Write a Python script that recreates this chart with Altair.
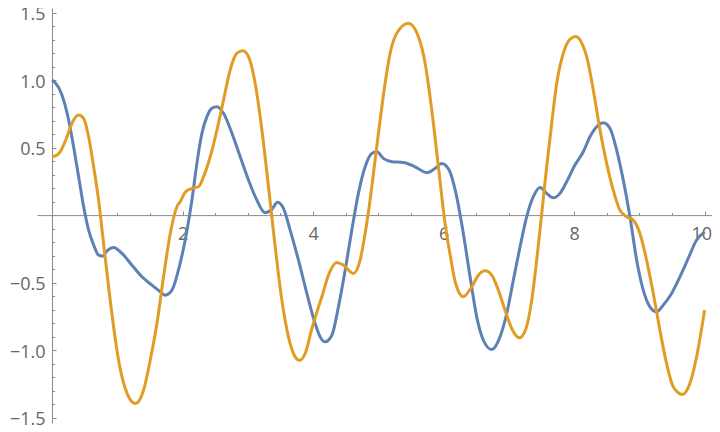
import altair as alt
import pandas as pd

# ---- data ----
blue_x = [0.0, 0.101, 0.178, 0.255, 0.331, 0.408, 0.485, 0.561, 0.638, 0.714, 0.776, 0.842, 0.944,
          1.072, 1.225, 1.378, 1.531, 1.659, 1.735, 1.838, 1.95, 2.06, 2.144, 2.220, 2.297, 2.374,
          2.450, 2.527, 2.628, 2.757, 2.884, 3.011, 3.139, 3.266, 3.369, 3.455, 3.547, 3.649, 3.777,
          3.905, 4.032, 4.109, 4.185, 4.288, 4.389, 4.492, 4.594, 4.695, 4.798, 4.900, 4.977, 5.078,
          5.207, 5.384, 5.564, 5.743, 5.870, 5.972, 6.085, 6.19, 6.303, 6.406, 6.508, 6.610, 6.738,
          6.865, 6.968, 7.069, 7.172, 7.274, 7.375, 7.478, 7.580, 7.681, 7.784, 7.886, 8.013, 8.141,
          8.243, 8.371, 8.447, 8.549, 8.652, 8.754, 8.856, 8.959, 9.060, 9.162, 9.265, 9.366, 9.494,
          9.622, 9.749, 9.877, 10.0]
blue_y = [1.0, 0.946, 0.852, 0.704, 0.506, 0.284, 0.062, -0.111, -0.222, -0.297, -0.304, -0.265, -0.240,
          -0.284, -0.371, -0.457, -0.519, -0.568, -0.593, -0.556, -0.383, -0.136, 0.111, 0.383, 0.606, 0.729,
          0.791, 0.803, 0.754, 0.606, 0.432, 0.259, 0.111, 0.017, 0.042, 0.096, 0.050, -0.111, -0.334,
          -0.580, -0.803, -0.902, -0.939, -0.890, -0.680, -0.408, -0.111, 0.161, 0.358, 0.457, 0.469, 0.420,
          0.395, 0.390, 0.358, 0.314, 0.346, 0.383, 0.334, 0.161, -0.136, -0.457, -0.754, -0.927, -0.996,
          -0.902, -0.729, -0.482, -0.235, -0.012, 0.136, 0.205, 0.161, 0.128, 0.161, 0.247, 0.371, 0.469,
          0.580, 0.667, 0.684, 0.643, 0.482, 0.259, -0.012, -0.334, -0.556, -0.680, -0.717, -0.667, -0.580,
          -0.457, -0.321, -0.185, -0.124]

orange_x = [0.0, 0.077, 0.153, 0.230, 0.306, 0.408, 0.485, 0.561, 0.638, 0.714, 0.790, 0.867, 0.944,
            1.020, 1.123, 1.276, 1.403, 1.505, 1.608, 1.709, 1.812, 1.914, 1.965, 2.04, 2.144, 2.245,
            2.322, 2.424, 2.527, 2.628, 2.730, 2.833, 2.925, 3.011, 3.113, 3.216, 3.317, 3.420, 3.522,
            3.623, 3.726, 3.792, 3.879, 3.982, 4.032, 4.135, 4.236, 4.364, 4.466, 4.619, 4.721, 4.798,
            4.874, 4.951, 5.028, 5.104, 5.181, 5.283, 5.462, 5.614, 5.717, 5.819, 5.921, 6.023, 6.11,
            6.176, 6.303, 6.432, 6.533, 6.636, 6.738, 6.839, 6.942, 7.044, 7.161, 7.263, 7.351, 7.427,
            7.504, 7.580, 7.657, 7.734, 7.835, 7.937, 8.029, 8.141, 8.193, 8.294, 8.397, 8.499, 8.600,
            8.702, 8.805, 8.906, 9.009, 9.111, 9.213, 9.315, 9.417, 9.519, 9.662, 9.774, 9.877, 10.0]
orange_y = [0.432, 0.445, 0.494, 0.580, 0.680, 0.741, 0.717, 0.580, 0.358, 0.111, -0.210, -0.531, -0.828,
            -1.075, -1.285, -1.396, -1.297, -1.075, -0.803, -0.457, -0.136, 0.062, 0.10, 0.17, 0.198, 0.210,
            0.284, 0.432, 0.630, 0.852, 1.075, 1.199, 1.218, 1.174, 0.976, 0.630, 0.210, -0.235, -0.630,
            -0.902, -1.050, -1.075, -1.025, -0.84, -0.76, -0.605, -0.445, -0.351, -0.371, -0.432, -0.334, -0.136,
            0.111, 0.408, 0.704, 0.976, 1.199, 1.347, 1.421, 1.322, 1.125, 0.778, 0.358, -0.062, -0.32,
            -0.49, -0.605, -0.531, -0.445, -0.413, -0.445, -0.556, -0.704, -0.840, -0.909, -0.840, -0.630, -0.334,
            0.012, 0.358, 0.680, 0.976, 1.199, 1.302, 1.322, 1.248, 1.174, 0.927, 0.630, 0.383, 0.185,
            0.037, -0.012, -0.037, -0.136, -0.334, -0.580, -0.853, -1.099, -1.272, -1.329, -1.248, -1.050, -0.704]

x_ticks = [2, 4, 6, 8, 10]
y_ticks = [-1.5, -1.0, -0.5, 0.5, 1.0, 1.5]
x_minor = [0.5, 1, 1.5, 2.5, 3, 3.5, 4.5, 5, 5.5, 6.5, 7, 7.5, 8.5, 9, 9.5]
y_minor = [round(-1.5 + 0.1 * i, 1) for i in range(31)]
y_minor = [v for v in y_minor if v not in y_ticks and v != 0]

# ---- layout ----
W, H = 675, 415
PX_PER_X = 65.26
X_DOM = [-0.23, -0.23 + W / PX_PER_X]
Y_DOM = [-1.54, 1.534]
x0px = W * (0 - X_DOM[0]) / (X_DOM[1] - X_DOM[0])
y0px = H * (Y_DOM[1] - 0) / (Y_DOM[1] - Y_DOM[0])

AX = "#8a8a8a"
LAB = "#666666"
FONT = "Open Sans"

blue = pd.DataFrame({"x": blue_x, "y": blue_y})
orange = pd.DataFrame({"x": orange_x, "y": orange_y})

xs = alt.Scale(domain=X_DOM, nice=False, zero=False)
ys = alt.Scale(domain=Y_DOM, nice=False, zero=False)


def line(df, color):
    return alt.Chart(df).mark_line(color=color, strokeWidth=3, interpolate="monotone").encode(
        x=alt.X("x:Q", scale=xs, axis=None),
        y=alt.Y("y:Q", scale=ys, axis=None),
    )


def ghost(xaxis, yaxis):
    return alt.Chart(blue).mark_point(opacity=0).encode(
        x=alt.X("x:Q", scale=xs, axis=xaxis),
        y=alt.Y("y:Q", scale=ys, axis=yaxis),
    )


major = ghost(
    alt.Axis(orient="top", offset=-y0px, values=x_ticks, labels=False, domain=True, domainColor=AX,
             ticks=True, tickSize=4, tickColor=AX, grid=False, title=None),
    alt.Axis(orient="right", offset=-(W - x0px), values=y_ticks, labels=False, domain=True, domainColor=AX,
             ticks=True, tickSize=4, tickColor=AX, grid=False, title=None),
)
minor = ghost(
    alt.Axis(orient="top", offset=-y0px, values=x_minor, labels=False, domain=False,
             ticks=True, tickSize=2.5, tickColor=AX, grid=False, title=None),
    alt.Axis(orient="right", offset=-(W - x0px), values=y_minor, labels=False, domain=False,
             ticks=True, tickSize=2.5, tickColor=AX, grid=False, title=None),
)
labels = ghost(
    alt.Axis(orient="bottom", offset=-(H - y0px), values=x_ticks, labels=True, domain=False, ticks=False,
             labelPadding=10, labelFont=FONT, labelFontSize=18, labelColor=LAB, labelFlush=12,
             labelFlushOffset=7, labelOverlap=False, format="d", grid=False, title=None),
    alt.Axis(orient="left", offset=-x0px, values=y_ticks, labels=True, domain=False, ticks=False,
             labelPadding=7, labelOffset=2, labelFont=FONT, labelFontSize=18, labelColor=LAB,
             labelFlush=False, labelOverlap=False, format=".1f", grid=False, title=None),
)

chart = (
    alt.layer(major, minor, labels, line(blue, "#5E81B5"), line(orange, "#E19C24"))
    .resolve_axis(x="independent", y="independent")
    .properties(width=W, height=H, padding={"left": 29, "top": 0, "right": 0, "bottom": 9},
                autosize=alt.AutoSizeParams(type="none"))
    .configure_view(strokeWidth=0)
    .configure_axis(grid=False)
)

chart.save("out.html", embed_options={"renderer": "svg", "actions": False})
